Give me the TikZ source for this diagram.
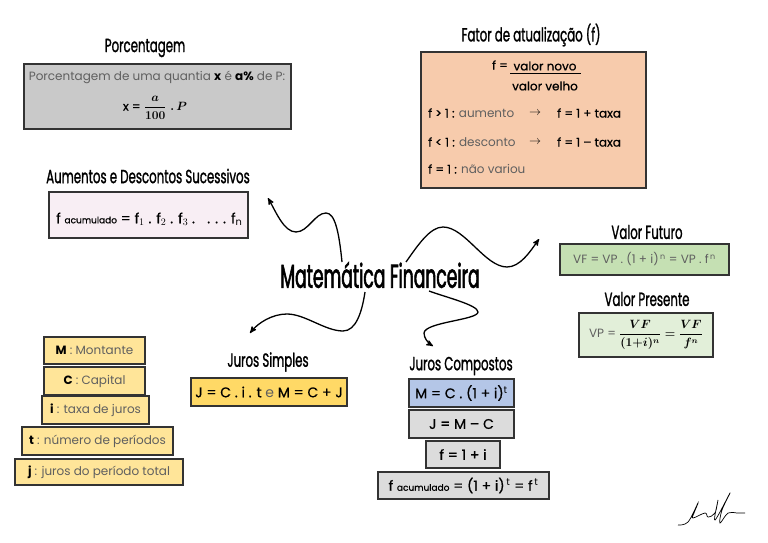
\documentclass[tikz,border=0pt]{standalone}
\usepackage{amsmath, amssymb}
\usepackage{xcolor}
\usepackage{fontspec}
\setmainfont{Poppins}
\newfontfamily\headfont[FakeStretch=0.62,FakeBold=1.2]{Poppins}
\newfontfamily\bigfont[FakeStretch=0.52,FakeBold=1.6]{Poppins}
\newfontfamily\medfont[FakeBold=0.7]{Poppins}
\usetikzlibrary{arrows, shadows}

\definecolor{boxgray}{HTML}{C9C9C9}
\definecolor{boxlight}{HTML}{DCDCDC}
\definecolor{boxpink}{HTML}{F8EEF4}
\definecolor{boxorange}{HTML}{F7CBAC}
\definecolor{boxgreen}{HTML}{C5E0B3}
\definecolor{boxpale}{HTML}{E2EFD9}
\definecolor{boxyellow}{HTML}{FFE599}
\definecolor{boxgold}{HTML}{FFD966}
\definecolor{boxblue}{HTML}{B4C6E7}
\definecolor{thintext}{HTML}{5F5F5F}

\newcommand{\acum}{{\fontsize{9}{10}\selectfont acumulado}}

\tikzset{
  box/.style={draw=black!80, line width=1.1pt, inner sep=0pt, align=center,
    drop shadow={shadow xshift=0.8pt, shadow yshift=-0.8pt, opacity=.25}},
  title/.style={font=\headfont\fontsize{19}{21}\selectfont, inner sep=0pt},
  txt/.style={font=\medfont\fontsize{12}{14}\selectfont, inner sep=0pt},
  bigtxt/.style={font=\medfont\fontsize{14}{16}\selectfont, inner sep=0pt},
  thin/.style={font=\fontsize{12}{14}\selectfont, inner sep=0pt, text=thintext},
  curvearrow/.style={-stealth', line width=1.3pt, black}
}

\begin{document}
\begin{tikzpicture}[x=1pt, y=-1pt]
\useasboundingbox (0,0) rectangle (768,543);

% Titulo central
\node[font=\bigfont\fontsize{33}{36}\selectfont, inner sep=0pt] (tema) at (380,275) {Matemática Financeira};

% Porcentagem
\node[title] (tporc) at (145,48) {Porcentagem};
\node[box, fill=boxgray, minimum width=267pt, minimum height=65pt] (porc) at (157.5,96.5) {};
\node[thin] (porctxt) at (157,77) {Porcentagem de uma quantia \textcolor{black}{\textbf{x}} é \textcolor{black}{\textbf{a\%}} de P:};
\node[txt] (porcfrm) at (155,108) {x = $\boldsymbol{\dfrac{a}{\mathbf{100}}\;.\,P}$};

% Aumentos
\node[title] (taum) at (148,176) {Aumentos e Descontos Sucessivos};
\node[box, fill=boxpink, minimum width=199pt, minimum height=46pt] (aum) at (148.5,215) {};
\node[bigtxt, anchor=west] (aumtxt) at (56,219) {f \acum{} = f$_1$ . f$_2$ . f$_3$ . \, . . . f$_{\mathrm{n}}$};

% Fator de atualizacao
\node[title] (tfator) at (531,35) {Fator de atualização (f)};
\node[box, fill=boxorange, minimum width=225pt, minimum height=136pt] (fator) at (533.5,120) {};
\node[txt] (fatorf) at (500,65) {f =};
\node[txt] (fatornum) at (545,66) {valor novo};
\node[txt] (fatorden) at (545,86) {valor velho};
\draw[line width=.7pt] (fatornum.south west) ++(-3,3) coordinate (fatorl) -- ++(71,0) coordinate (fatorr);
\node[txt, anchor=west] (fa1) at (428,113) {f > 1 : {\normalfont\color{thintext}aumento}};
\node[txt] (fa2) at (535,113) {$\rightarrow$};
\node[txt, anchor=west] (fa3) at (557,113) {f = 1 + taxa};
\node[txt, anchor=west] (fb1) at (428,142) {f < 1 : {\normalfont\color{thintext}desconto}};
\node[txt] (fb2) at (535,142) {$\rightarrow$};
\node[txt, anchor=west] (fb3) at (557,142) {f = 1 – taxa};
\node[txt, anchor=west] (fc1) at (428,169) {f = 1 : {\normalfont\color{thintext}não variou}};

% Valor futuro e presente
\node[title] (tvf) at (647,232) {Valor Futuro};
\node[box, fill=boxgreen, minimum width=169pt, minimum height=31pt, thin] (vf) at (644.5,259.5) {VF = VP . (1 + i)$^{\,\mathrm{n}}$ = VP . f$^{\,\mathrm{n}}$};
\node[title] (tvp) at (647,299) {Valor Presente};
\node[box, fill=boxpale, minimum width=134pt, minimum height=44pt, thin] (vp) at (646,335) {VP = \textcolor{black}{$\boldsymbol{\dfrac{VF}{(1{+}i)^n} = \dfrac{VF}{f^n}}$}};

% Juros simples
\node[title] (tjs) at (268,362) {Juros Simples};
\node[box, fill=boxgold, minimum width=156pt, minimum height=28pt, bigtxt] (js) at (269,392) {J = C . i . t {\normalfont\color{thintext}e} M = C + J};

% Legenda
\node[box, fill=boxyellow, minimum width=101pt, minimum height=27pt, thin] (lm) at (94.5,350.5) {\textcolor{black}{\textbf{M}} : Montante};
\node[box, fill=boxyellow, minimum width=101pt, minimum height=28pt, thin] (lc) at (94.5,381) {\textcolor{black}{\textbf{C}} : Capital};
\node[box, fill=boxyellow, minimum width=107pt, minimum height=28pt, thin] (li) at (95.5,410) {\textcolor{black}{\textbf{i}} : taxa de juros};
\node[box, fill=boxyellow, minimum width=151pt, minimum height=28pt, thin] (lt) at (97.5,441) {\textcolor{black}{\textbf{t}} : número de períodos};
\node[box, fill=boxyellow, minimum width=168pt, minimum height=26pt, thin] (lj) at (99,472) {\textcolor{black}{\textbf{j}} : juros do período total};

% Juros compostos
\node[title] (tjc) at (461,366) {Juros Compostos};
\node[box, fill=boxblue, minimum width=105pt, minimum height=28pt, bigtxt] (jc1) at (461.5,393) {M = C . (1 + i)$^{\mathrm{t}}$};
\node[box, fill=boxlight, minimum width=105pt, minimum height=28pt, bigtxt] (jc2) at (461.5,424) {J = M – C};
\node[box, fill=boxlight, minimum width=74pt, minimum height=27pt, bigtxt] (jc3) at (463,454.5) {f = 1 + i};
\node[box, fill=boxlight, minimum width=171pt, minimum height=27pt, bigtxt] (jc4) at (463.5,485.5) {f \acum{} = (1 + i)$^{\,\mathrm{t}}$ = f$^{\,\mathrm{t}}$};

% setas
\coordinate (a1) at (342,262);
\coordinate (a2) at (268,198);
\coordinate (b1) at (406,262);
\coordinate (b2) at (539,239);
\coordinate (c1) at (365,292);
\coordinate (c2) at (250,333);
\coordinate (d1) at (429,291);
\coordinate (d2) at (433,346);
\draw[curvearrow] (a1) .. controls (339,232) and (335,213) .. (326,213) .. controls (315,213) and (308,232) .. (296,232) .. controls (284,232) and (276,212) .. (a2);
\draw[curvearrow] (b1) .. controls (418,245) and (430,227) .. (443,227) .. controls (465,227) and (485,267) .. (507,267) .. controls (520,267) and (530,252) .. (b2);
\draw[curvearrow] (c1) .. controls (362,312) and (356,331) .. (343,331) .. controls (325,331) and (305,314) .. (287,314) .. controls (272,314) and (258,323) .. (c2);
\draw[curvearrow] (d1) .. controls (445,297) and (478,305) .. (478,312) .. controls (478,320) and (425,322) .. (424,333) .. controls (424,338) and (428,343) .. (d2);

% assinatura
\draw[line width=.7pt] plot[smooth, tension=.6] coordinates {(678,525) (688,522) (698,503) (694,513) (693,518) (705,513) (708,517) (715,513) (718,500) (715,520) (730,493) (722,510) (720,523) (728,513) (737,513) (745,513)};
\end{tikzpicture}
\end{document}
